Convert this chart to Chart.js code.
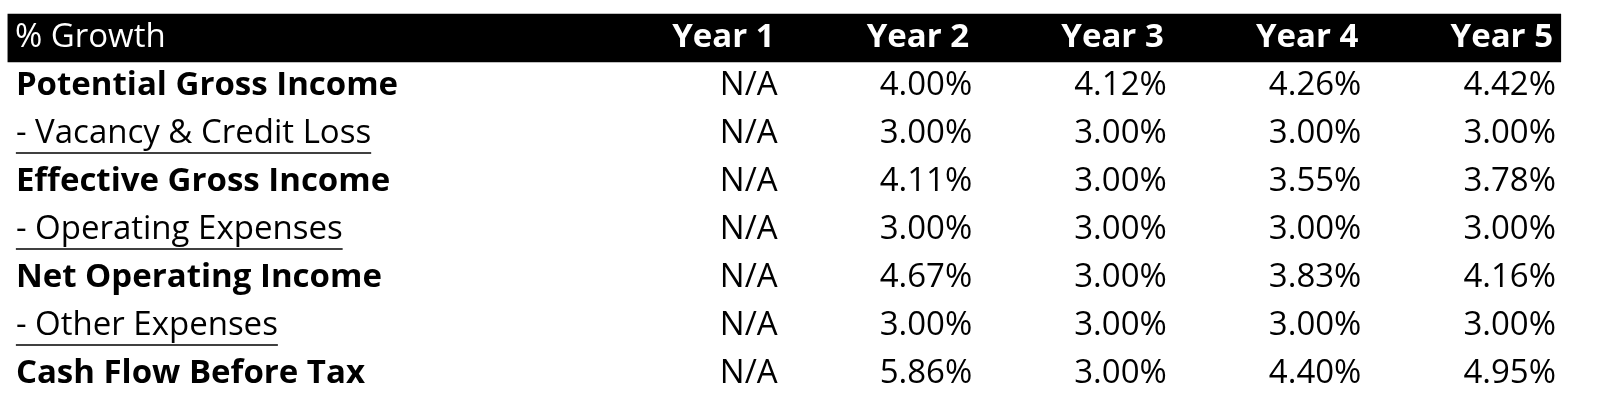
<!DOCTYPE html>
<html>
<head>
<meta charset="utf-8">
<script src="https://cdn.jsdelivr.net/npm/chart.js@4/dist/chart.umd.min.js"></script>
<style>
  html, body { margin: 0; padding: 0; background: #fff; overflow: hidden; }
</style>
</head>
<body>
<canvas id="growth-table" width="1600" height="420"></canvas>
<script>
const headerTitle = "% Growth";
const years = ["Year 1", "Year 2", "Year 3", "Year 4", "Year 5"];
const rowLabels = [
    "Potential Gross Income",
    "- Vacancy & Credit Loss",
    "Effective Gross Income",
    "- Operating Expenses",
    "Net Operating Income",
    "- Other Expenses",
    "Cash Flow Before Tax"
];
const rowBold = [true, false, true, false, true, false, true];
const pgi = ["N/A", "4.00%", "4.12%", "4.26%", "4.42%"];
const vacancy = ["N/A", "3.00%", "3.00%", "3.00%", "3.00%"];
const egi = ["N/A", "4.11%", "3.00%", "3.55%", "3.78%"];
const opex = ["N/A", "3.00%", "3.00%", "3.00%", "3.00%"];
const noi = ["N/A", "4.67%", "3.00%", "3.83%", "4.16%"];
const otherExp = ["N/A", "3.00%", "3.00%", "3.00%", "3.00%"];
const cfbt = ["N/A", "5.86%", "3.00%", "4.40%", "4.95%"];
const rowValues = [pgi, vacancy, egi, opex, noi, otherExp, cfbt];

const font = '"Open Sans", "Noto Sans", sans-serif';
const fontSize = 33;
const yLabels = ["header"].concat(rowLabels);

// text cells drawn on top of the scales
const tableText = {
    id: 'tableText',
    afterDatasetsDraw(chart) {
        const ctx = chart.ctx;
        const x = chart.scales.x;
        const y = chart.scales.y;
        ctx.save();
        ctx.textBaseline = 'middle';

        // header row
        let yy = y.getPixelForValue(0);
        ctx.fillStyle = '#fff';
        ctx.textAlign = 'left';
        ctx.font = `${fontSize}px ${font}`;
        ctx.fillText(headerTitle, x.getPixelForValue(-2.94) + 7, yy);
        ctx.textAlign = 'right';
        ctx.font = `bold ${fontSize}px ${font}`;
        years.forEach((yr, i) => ctx.fillText(yr, x.getPixelForValue(i + 1), yy));

        // body rows
        rowLabels.forEach((label, r) => {
            yy = y.getPixelForValue(r + 1);
            ctx.fillStyle = '#000';
            ctx.strokeStyle = '#000';
            ctx.textAlign = 'left';
            ctx.font = (rowBold[r] ? 'bold ' : '') + `${fontSize}px ${font}`;
            const lx = x.getPixelForValue(-2.94) + 8;
            ctx.fillText(label, lx, yy);
            if (!rowBold[r]) {
                const w = ctx.measureText(label).width;
                ctx.lineWidth = 1.5;
                ctx.beginPath();
                ctx.moveTo(lx, yy + 19);
                ctx.lineTo(lx + w, yy + 19);
                ctx.stroke();
            }
            ctx.textAlign = 'right';
            ctx.font = `${fontSize}px ${font}`;
            rowValues[r].forEach((v, i) => ctx.fillText(v, x.getPixelForValue(i + 1) + 3, yy));
        });
        ctx.restore();
    }
};

new Chart(document.getElementById('growth-table'), {
    type: 'bar',
    data: {
        labels: yLabels,
        datasets: [{
            // black header band
            data: [[-2.94, 5.04]],
            backgroundColor: '#000',
            barPercentage: 1,
            categoryPercentage: 1,
            clip: false
        }]
    },
    options: {
        indexAxis: 'y',
        responsive: false,
        devicePixelRatio: 1,
        animation: { duration: 0 },
        layout: { padding: { left: 580, right: 47, top: 14, bottom: 22 } },
        scales: {
            x: { type: 'linear', min: 0, max: 5, display: false },
            y: { display: false }
        },
        plugins: { legend: { display: false }, tooltip: { enabled: false } }
    },
    plugins: [tableText]
});
</script>
</body>
</html>
